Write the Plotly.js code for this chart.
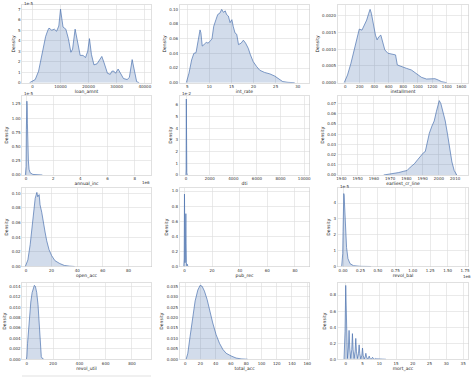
<!DOCTYPE html>
<html><head><meta charset="utf-8">
<script src="https://cdn.plot.ly/plotly-3.0.1.min.js"></script>
<style>html,body{margin:0;padding:0;background:#fff}#chart{width:474px;height:377px}</style>
</head><body><div id="chart"></div>
<script>
// ---- data ----
const xLabels = ["loan_amnt","int_rate","installment","annual_inc","dti","earliest_cr_line","open_acc","pub_rec","revol_bal","revol_util","total_acc","mort_acc"];

// loan_amnt (density x1e-5)
const loanAmntX = [-1000,1000,2200,3500,4700,5500,5900,6900,7800,8600,9400,10000,10900,11900,12800,13700,14300,15200,16000,17000,18000,18900,19700,20300,21000,21900,23000,24000,24700,25500,26700,27700,28300,29000,29600,30500,31400,32400,33700,34500,35500,36400,37100,38000];
const loanAmntD = [0,0.3,1.1,3.0,4.4,5.0,5.2,5.0,5.1,4.9,5.4,7.0,5.3,5.1,4.2,2.9,3.2,5.1,3.8,2.6,2.6,2.4,3.0,4.2,2.7,1.7,1.8,2.2,2.5,1.9,0.9,0.8,1.1,1.1,0.9,1.3,0.8,0.4,0.3,0.5,2.2,0.8,0.1,0];

// int_rate
const intRateX = [4.8,5.4,6.0,6.5,7.0,7.5,7.9,8.1,8.4,8.8,9.3,9.7,10.1,10.6,11.0,11.5,11.9,12.4,12.8,13.2,13.6,13.9,14.3,14.7,15.1,15.4,15.8,16.2,16.6,17.2,17.7,18.2,18.8,19.3,19.9,20.7,21.4,22.5,23.7,24.8,25.9,26.6,27.8,29.3];
const intRateD = [0,0.013,0.031,0.040,0.041,0.059,0.072,0.068,0.050,0.052,0.055,0.054,0.056,0.060,0.077,0.086,0.093,0.095,0.100,0.096,0.098,0.093,0.091,0.082,0.086,0.077,0.068,0.066,0.052,0.054,0.058,0.054,0.047,0.038,0.029,0.022,0.017,0.014,0.012,0.009,0.005,0.0015,0.0005,0];

// installment
const installmentX = [-14,32,79,125,162,194,231,264,296,324,343,361,389,417,440,463,491,519,546,588,634,694,718,773,843,912,981,1051,1120,1190,1236,1282,1329,1398];
const installmentD = [0,0.00023,0.00058,0.00098,0.00137,0.0016,0.00157,0.00172,0.00187,0.00207,0.00219,0.00207,0.00172,0.00142,0.00128,0.00137,0.00142,0.00123,0.00098,0.00088,0.00086,0.00083,0.00053,0.00048,0.00043,0.00038,0.00028,0.00016,0.00011,0.00011,0.00012,0.00008,0.00003,0];

// annual_inc (x in 1e6, density x1e-5)
const annualIncX = [-0.05,0,0.02,0.04,0.06,0.08,0.1,0.13,0.17,0.22,0.3,0.5,0.8,1.2];
const annualIncD = [0,0.15,0.8,1.2,1.3,1.2,0.9,0.5,0.25,0.1,0.04,0.01,0.003,0];

// dti (density x1e-2)
const dtiX = [-20,0,5,10,15,18,22,28,35,45,60,100];
const dtiD = [0,0.5,2.5,5,6.3,6.5,6.2,4.5,2.5,0.8,0.2,0];

// earliest_cr_line (year)
const crLineX = [1966,1969.2,1972.2,1975.3,1978.4,1980.4,1982.4,1984.9,1986.9,1989,1990.6,1991.6,1992.7,1994.1,1995.7,1997.1,1998.4,1999.4,2000.2,2001.2,2002.4,2003.9,2005.3,2006.5,2008,2009.4,2011];
const crLineD = [0,0.0007,0.0013,0.0024,0.0037,0.0044,0.0077,0.011,0.015,0.0195,0.022,0.023,0.031,0.041,0.048,0.053,0.062,0.070,0.073,0.070,0.063,0.053,0.040,0.026,0.0128,0.0044,0];

// open_acc
const openAccX = [-0.5,1.5,3.3,4.6,5.9,7.2,8.5,9.2,10.3,11,12.3,13.6,14.9,16.2,18,20,22.6,26.4,30,34,38];
const openAccD = [0,0.009,0.030,0.051,0.077,0.093,0.101,0.095,0.098,0.084,0.074,0.058,0.047,0.035,0.023,0.015,0.008,0.004,0.0014,0.0005,0];

// pub_rec
const pubRecX = [-0.5,-0.2,0,0.2,0.4,0.6,0.8,1,1.2,1.4,1.7,2,2.3,2.6,3];
const pubRecD = [0,0.1,0.96,0.3,0.05,0.1,0.4,0.7,0.3,0.05,0.01,0.03,0.01,0.005,0];

// revol_bal (x in 1e6, density x1e-5)
const revolBalX = [-0.02,-0.005,0,0.005,0.01,0.015,0.02,0.03,0.04,0.05,0.07,0.1,0.15,0.25,0.4];
const revolBalD = [0,0.8,2.2,3.8,4.6,4.5,4.0,2.9,1.9,1.2,0.5,0.18,0.05,0.01,0];

// revol_util
const revolUtilX = [-3,0,5,10,20,30,40,50,57,65,75,85,95,100,105,110,120,130];
const revolUtilD = [0,0.0006,0.003,0.005,0.0085,0.011,0.0128,0.0139,0.0142,0.014,0.0128,0.0105,0.007,0.0045,0.0018,0.0005,0.0001,0];

// total_acc
const totalAccX = [1.3,3.5,6.5,10,13.1,16.6,19.7,22.3,25.3,28.8,32.3,36.2,40.6,45,49.3,53.7,60.3,66.8,73.4,82];
const totalAccD = [0,0.0029,0.011,0.0206,0.028,0.0332,0.0355,0.035,0.0327,0.0287,0.023,0.0174,0.0118,0.0077,0.0048,0.0029,0.0016,0.0006,0.0002,0];

// mort_acc
const mortAccX = [-0.5,-0.2,0,0.2,0.5,0.8,1,1.2,1.5,1.8,2,2.2,2.5,2.8,3,3.2,3.5,3.8,4,4.2,4.5,4.8,5,5.2,5.5,5.8,6,6.2,6.5,6.8,7,7.2,7.5,7.8,8,8.2,8.5,8.8,9,9.2,9.5,10,11,12];
const mortAccD = [0,0.35,0.92,0.35,0.01,0.14,0.36,0.14,0.01,0.12,0.32,0.12,0.01,0.1,0.26,0.1,0.01,0.07,0.18,0.07,0.005,0.05,0.14,0.05,0.004,0.03,0.075,0.03,0.002,0.015,0.04,0.015,0.001,0.01,0.025,0.01,0.001,0.005,0.012,0.005,0.001,0.004,0.002,0];

// ---- layout helpers ----
const W = 474, H = 377;
const series = [
  [loanAmntX, loanAmntD], [intRateX, intRateD], [installmentX, installmentD],
  [annualIncX, annualIncD], [dtiX, dtiD], [crLineX, crLineD],
  [openAccX, openAccD], [pubRecX, pubRecD], [revolBalX, revolBalD],
  [revolUtilX, revolUtilD], [totalAccX, totalAccD], [mortAccX, mortAccD]
];
const colPx = [[22,151],[179.5,309.5],[337.5,468.5]];
const rowPx = [[5,82.7],[95.5,175],[188,266.5],[283,359.3]];
const axisCfg = [
  {xr:[-3700,42200], xd:10000, xf:'d', yr:[0,7.4], yd:1, yf:'d'},
  {xr:[3.26,32.65], xd:5, xf:'d', yr:[0,0.106], yd:0.02, yf:'.2f'},
  {xr:[-106,1699], xd:200, xf:'d', yr:[0,0.00232], yd:0.0005, yf:'.4f'},
  {xr:[-0.3,9.2], xd:2, xf:'d', yr:[0,1.4], yd:0.25, yf:'.2f'},
  {xr:[-560,10450], xd:2000, xf:'d', yr:[0,6.8], yd:1, yf:'d'},
  {xr:[1937.6,2018.2], xd:10, xf:'d', yr:[0,0.078], yd:0.01, yf:'.2f'},
  {xr:[-3.1,97.6], xd:20, xf:'d', yr:[0,0.107], yd:0.02, yf:'.2f'},
  {xr:[-3.6,90.5], xd:20, xf:'d', yr:[0,1.04], yd:0.2, yf:'.1f'},
  {xr:[-0.08,1.8], xd:0.25, xf:'.2f', yr:[0,4.95], yd:1, yf:'d'},
  {xr:[-37,945], xd:200, xf:'d', yr:[0,0.01465], yd:0.002, yf:'.3f'},
  {xr:[-7.4,163], xd:20, xf:'d', yr:[0,0.0366], yd:0.005, yf:'.3f'},
  {xr:[-2.45,36.6], xd:5, xf:'d', yr:[0,0.95], yd:0.2, yf:'.1f'}
];
const tickFont = {family:'DejaVu Sans', size:4, color:'#333'};
const titleFont = {family:'DejaVu Sans', size:4.5, color:'#222'};
const grid = '#dcdcdc', frame = '#cccccc';

const data = [];
const layout = {
  width: W, height: H, margin:{l:0,r:0,t:0,b:0},
  paper_bgcolor:'#fff', plot_bgcolor:'#fff', showlegend:false,
  annotations: [], shapes: []
};
series.forEach((s, i) => {
  const n = i + 1, r = Math.floor(i/3), c = i % 3;
  data.push({
    x: s[0], y: s[1], type:'scatter', mode:'lines', fill:'tozeroy',
    fillcolor:'rgba(76,114,176,0.25)', line:{color:'rgb(76,114,176)', width:0.7},
    xaxis:'x'+n, yaxis:'y'+n, hoverinfo:'skip'
  });
  const a = axisCfg[i];
  layout['xaxis'+(n===1?'':n)] = {
    domain:[colPx[c][0]/W, colPx[c][1]/W], range:a.xr, dtick:a.xd, tick0:0, tickformat:a.xf,
    anchor:'y'+n, showgrid:true, gridcolor:grid, gridwidth:0.6, zeroline:false,
    showline:true, mirror:true, linecolor:frame, linewidth:0.6, ticks:'', ticklen:0,
    tickfont:tickFont, title:{text:xLabels[i], font:titleFont, standoff:1}
  };
  layout['yaxis'+(n===1?'':n)] = {
    domain:[1-rowPx[r][1]/H, 1-rowPx[r][0]/H], range:a.yr, dtick:a.yd, tick0:0, tickformat:a.yf,
    anchor:'x'+n, showgrid:true, gridcolor:grid, gridwidth:0.6, zeroline:false,
    showline:true, mirror:true, linecolor:frame, linewidth:0.6, ticks:'', ticklen:0,
    tickfont:tickFont, title:{text:'Density', font:titleFont, standoff:2}
  };
});
// offset (multiplier) labels as in the reference
const offs = [
  {t:'1e-5', x:22, y:3, xa:'left'}, {t:'1e-5', x:22, y:94, xa:'left'},
  {t:'1e-2', x:179.5, y:94, xa:'left'}, {t:'1e-5', x:337.5, y:186, xa:'left'},
  {t:'1e6', x:152, y:182, xa:'right'}, {t:'1e6', x:473, y:276.5, xa:'right'}
];
offs.forEach(o => layout.annotations.push({
  text:o.t, xref:'paper', yref:'paper', x:o.x/W, y:1-o.y/H, xanchor:o.xa, yanchor:'middle',
  showarrow:false, font:tickFont
}));
layout.shapes.push({type:'line', xref:'paper', yref:'paper', x0:22/W, x1:151/W, y0:1-376/H, y1:1-376/H, line:{color:frame, width:0.6}});
Plotly.newPlot('chart', data, layout, {staticPlot:true, displayModeBar:false});
</script></body></html>
